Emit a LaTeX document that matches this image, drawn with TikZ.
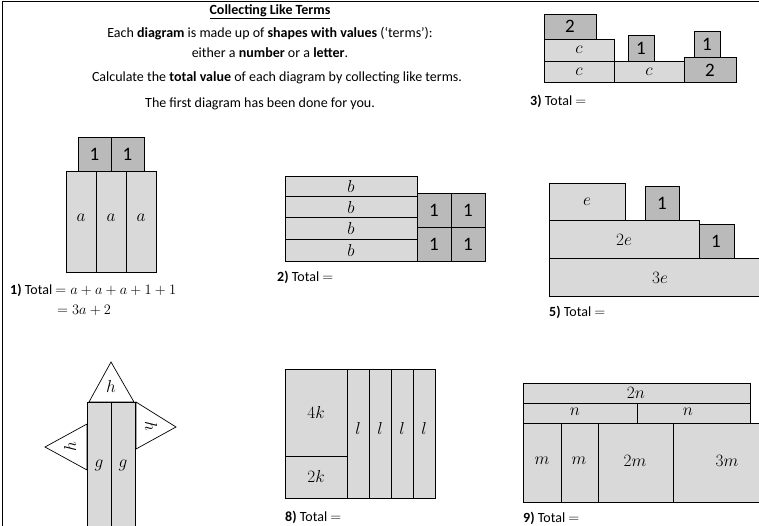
\documentclass[tikz,border=0pt]{standalone}
\usepackage{fontspec}
\setmainfont{Carlito}
\usepackage{amsmath}
\begin{document}
\begin{tikzpicture}[x=1pt,y=-1pt,
  lt/.style={draw,fill=black!15,line width=0.7pt},
  dk/.style={draw,fill=black!27,line width=0.7pt},
  tx/.style={font=\fontsize{14}{16}\selectfont,inner sep=0},
  mt/.style={font=\fontsize{16}{18}\selectfont,inner sep=0},
  nm/.style={font=\fontsize{19}{20}\selectfont,inner sep=0}]
\useasboundingbox (0,0) rectangle (759,526);
\draw[line width=0.8pt] (2,530) -- (2,1) -- (762,1);
% header
\node[tx] (t0) at (270,12) {\textbf{\underline{Collecting Like Terms}}};
\node[tx] (t1) at (270,34) {Each \textbf{diagram} is made up of \textbf{shapes with values} (‘terms’):};
\node[tx] (t2) at (270,53) {either a \textbf{number} or a \textbf{letter}.};
\node[tx] (t3) at (277,78) {Calculate the \textbf{total value} of each diagram by collecting like terms.};
\node[tx] (t4) at (260,104) {The first diagram has been done for you.};
% diagram 1
\foreach \x/\n in {66/a1,96/a2,126/a3}{\draw[lt] (\x,171) rectangle ++(30,101); \node[mt] (\n) at (\x+15,218) {$a$};}
\foreach \x/\n in {78/o1,111/o2}{\draw[dk] (\x,137) rectangle ++(33,34); \node[nm] (\n) at (\x+16.5,154) {1};}
\node[tx,anchor=west] (r1) at (10,290) {\textbf{1)} Total $= a+a+a+1+1$};
\node[tx,anchor=west] (r1b) at (57,310) {$= 3a+2$};
% diagram 2
\foreach \y/\h/\n in {176/20/b1,196/21/b2,217/22/b3,239/22/b4}{\draw[lt] (285,\y) rectangle (417,\y+\h); \node[mt] (\n) at (351,\y+\h/2+1) {$b$};}
\foreach \x in {417,451}{\foreach \y in {193,227}{\draw[dk] (\x,\y) rectangle ++(34,34); \node[nm] at (\x+17,\y+17) {1};}}
\node[tx,anchor=west] (r2) at (277,277) {\textbf{2)} Total $=$};
% diagram 3
\draw[lt] (544,61) rectangle (614,82); \node[mt] (c1) at (579,72) {$c$};
\draw[lt] (614,61) rectangle (684,82); \node[mt] (c2) at (649,72) {$c$};
\draw[dk] (684,57) rectangle (736,82); \node[nm] (d2) at (710,70) {2};
\draw[lt] (544,39) rectangle (614,61); \node[mt] (c3) at (579,50) {$c$};
\draw[dk] (544,14) rectangle (596,39); \node[nm] (d3) at (570,26) {2};
\draw[dk] (628,35) rectangle (654,61); \node[nm] (d4) at (641,48) {1};
\draw[dk] (694,31) rectangle (720,57); \node[nm] (d5) at (707,44) {1};
\node[tx,anchor=west] (r3) at (530,101) {\textbf{3)} Total $=$};
% diagram 5
\draw[lt] (549,183) rectangle (625,220); \node[mt] (e1) at (587,202) {$e$};
\draw[dk] (645,186) rectangle (679,220); \node[nm] (f1) at (662,203) {1};
\draw[lt] (549,220) rectangle (699,258); \node[mt] (e2) at (624,240) {$2e$};
\draw[dk] (699,224) rectangle (734,258); \node[nm] (f2) at (716,241) {1};
\draw[lt] (549,258) rectangle (765,296); \node[mt] (e3) at (660,278) {$3e$};
\node[tx,anchor=west] (r5) at (549,312) {\textbf{5)} Total $=$};
% diagram 4
\draw[draw,fill=white,line width=0.7pt] (111,362) -- (89,402) -- (134,402) -- cycle;
\draw[draw,fill=white,line width=0.7pt] (136,402) -- (176,427) -- (136,449) -- cycle;
\draw[draw,fill=white,line width=0.7pt] (45,447) -- (87,424) -- (87,470) -- cycle;
\node[mt] (h1) at (111,386) {$h$};
\node[mt,rotate=-90] (h2) at (151,426) {$h$};
\node[mt,rotate=90] (h3) at (70,447) {$h$};
\foreach \x/\n in {87/g1,111/g2}{\draw[lt] (\x,402) rectangle ++(24,130); \node[mt] (\n) at (\x+12,465) {$g$};}
% diagram 8
\draw[lt] (285,369) rectangle (347,456); \node[mt] (k1) at (316,412) {$4k$};
\draw[lt] (285,456) rectangle (347,498); \node[mt] (k2) at (316,476) {$2k$};
\foreach \x in {347,369,391,413}{\draw[lt] (\x,369) rectangle ++(22,129); \node[mt] at (\x+11,428) {$l$};}
\node[tx,anchor=west] (r8) at (285,517) {\textbf{8)} Total $=$};
% diagram 9
\draw[lt] (523,383) rectangle (750,403); \node[mt] (n1) at (636,393) {$2n$};
\draw[lt] (523,403) rectangle (637,423); \node[mt] (n2) at (575,412) {$n$};
\draw[lt] (637,403) rectangle (750,423); \node[mt] (n3) at (688,412) {$n$};
\draw[lt] (523,423) rectangle (561,502); \node[mt] (m1) at (542,461) {$m$};
\draw[lt] (561,423) rectangle (598,502); \node[mt] (m2) at (579,461) {$m$};
\draw[lt] (598,423) rectangle (673,502); \node[mt] (m3) at (635,461) {$2m$};
\draw[lt] (673,423) rectangle (765,502); \node[mt] (m4) at (727,461) {$3m$};
\node[tx,anchor=west] (r9) at (523,518) {\textbf{9)} Total $=$};
\end{tikzpicture}
\end{document}
